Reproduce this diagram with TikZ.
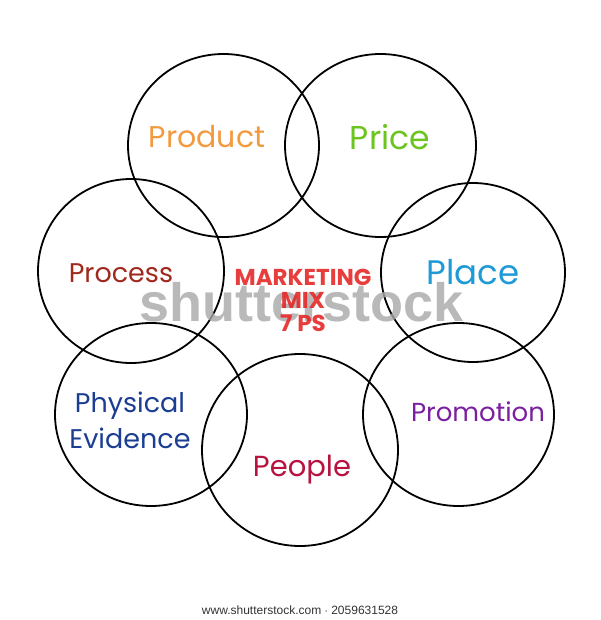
\documentclass[tikz,border=0pt]{standalone}
\usepackage{fontspec}
\setmainfont{Poppins}
\newfontfamily\wmfont{Liberation Sans}
\definecolor{cProduct}{HTML}{F39A3F}
\definecolor{cPrice}{HTML}{6CC51E}
\definecolor{cProcess}{HTML}{A0281C}
\definecolor{cPlace}{HTML}{1E9AD6}
\definecolor{cMix}{HTML}{E62828}
\definecolor{cPhys}{HTML}{1B3E92}
\definecolor{cPeople}{HTML}{B8123F}
\definecolor{cPromo}{HTML}{7A1FA0}
\definecolor{cWm}{HTML}{A8A8A8}
\newcommand{\fsz}[1]{\fontsize{#1}{#1}\selectfont}
\begin{document}
\begin{tikzpicture}[x=1pt,y=-1pt,
  ring/.style={draw=black,line width=1.8pt},
  lbl/.style={inner sep=0pt},
  mix/.style={inner sep=0pt,align=center,text=cMix,font=\bfseries\fontsize{23}{23}\selectfont}]
\useasboundingbox (0,0) rectangle (600,620);
\fill[white] (0,0) rectangle (600,620);
% circles
\draw[ring] (223.5,145.5) ellipse [x radius=95.5, y radius=91.5];
\draw[ring] (380.5,145.5) ellipse [x radius=95.5, y radius=91.5];
\draw[ring] (131,271) ellipse [x radius=93, y radius=92];
\draw[ring] (473,272.5) ellipse [x radius=92, y radius=89.5];
\draw[ring] (151,414.5) ellipse [x radius=96, y radius=91.5];
\draw[ring] (300,450) ellipse [x radius=98, y radius=96];
\draw[ring] (458.5,414.5) ellipse [x radius=95.5, y radius=91.5];
% labels
\node[lbl,text=cProduct,font=\fsz{30}] (product) at (207,137) {Product};
\node[lbl,text=cPrice,font=\fsz{33}] (price) at (390,137) {Price};
\node[lbl,text=cProcess,font=\fsz{27}] (process) at (121,273) {Process};
\node[lbl,text=cPlace,font=\fsz{34}] (place) at (473,272) {Place};
\node[lbl,text=cPhys,align=center,font=\fontsize{27}{36}\selectfont] (phys) at (130,420) {Physical\\Evidence};
\node[lbl,text=cPeople,font=\fsz{29}] (people) at (302,470) {People};
\node[lbl,text=cPromo,font=\fsz{26}] (promo) at (478,412) {Promotion};
% watermark
\node[inner sep=0pt,anchor=base,text=cWm,opacity=0.8,font=\wmfont\bfseries\fontsize{54}{60}\selectfont] (wm) at (302,321) {shutterstock};
\node[mix,opacity=0.9] (mix) at (303,300) {MARKETING\\MIX\\7 PS};
\node[inner sep=0pt,anchor=base,text=black!80,font=\wmfont\fontsize{12}{14}\selectfont] (credit) at (300,614) {www.shutterstock.com $\cdot$ 2059631528};
\end{tikzpicture}
\end{document}
